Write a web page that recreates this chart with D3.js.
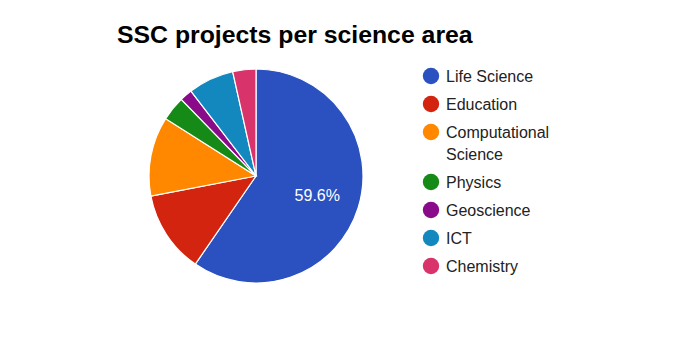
<!DOCTYPE html>
<html>
<head>
<meta charset="utf-8">
<title>SSC projects per science area</title>
<style>
body { margin: 0; background: #fff; }
svg { display: block; }
</style>
</head>
<body>
<svg id="chart" width="685" height="353"></svg>
<script src="https://cdn.jsdelivr.net/npm/d3@7"></script>
<script>
// share of projects per area (percent)
var areas = ["Life Science", "Education", "Computational Science", "Physics", "Geoscience", "ICT", "Chemistry"];
var shares = [59.6, 12.4, 12.0, 3.7, 1.9, 6.9, 3.5];
var colours = ["#2a51bf", "#d2240f", "#ff8800", "#168a16", "#8a0b8a", "#1388be", "#d8336b"];

var svg = d3.select("#chart");
var font = "'Liberation Sans', Arial, sans-serif";

svg.append("text")
    .attr("x", 117)
    .attr("y", 43)
    .attr("font-family", font)
    .attr("font-weight", "bold")
    .attr("font-size", 24.8)
    .attr("fill", "#000")
    .text("SSC projects per science area");

var cx = 256, cy = 176, r = 107;
var data = areas.map(function(a, i) { return {name: a, value: shares[i], colour: colours[i]}; });

var pie = d3.pie().sort(null).value(function(d) { return d.value; });
var arc = d3.arc().innerRadius(0).outerRadius(r);
var total = d3.sum(shares);

var g = svg.append("g").attr("transform", "translate(" + cx + "," + cy + ")");
var slices = pie(data);

g.selectAll("path")
    .data(slices)
  .enter().append("path")
    .attr("d", arc)
    .attr("fill", function(d) { return d.data.colour; })
    .attr("stroke", "#fff")
    .attr("stroke-width", 1.2);

// only the big slice gets a label, like the original
var labelArc = d3.arc().innerRadius(r * 0.6).outerRadius(r * 0.6);
g.selectAll("text.pct")
    .data(slices.filter(function(d) { return d.data.value / total > 0.2; }))
  .enter().append("text")
    .attr("class", "pct")
    .attr("transform", function(d) { var c = labelArc.centroid(d); return "translate(" + c[0] + "," + c[1] + ")"; })
    .attr("text-anchor", "middle")
    .attr("dy", "0.38em")
    .attr("font-family", font)
    .attr("font-size", 16)
    .attr("fill", "#fff")
    .text(function(d) { return (d.data.value / total * 100).toFixed(1) + "%"; });

// legend, "Computational Science" wraps onto two lines
var legendY = [76, 104, 132, 182, 210, 238, 266];
var legend = svg.append("g");
var rows = legend.selectAll("g")
    .data(data)
  .enter().append("g")
    .attr("transform", function(d, i) { return "translate(431," + legendY[i] + ")"; });

rows.append("circle")
    .attr("r", 8.2)
    .attr("fill", function(d) { return d.colour; });

rows.append("text")
    .attr("x", 15)
    .attr("font-family", font)
    .attr("font-size", 16)
    .attr("fill", "#222")
    .each(function(d) {
        var lines = d.name === "Computational Science" ? ["Computational", "Science"] : [d.name];
        var t = d3.select(this);
        lines.forEach(function(l, k) {
            t.append("tspan").attr("x", 15).attr("y", k * 22).attr("dy", "0.36em").text(l);
        });
    });
</script>
</body>
</html>
